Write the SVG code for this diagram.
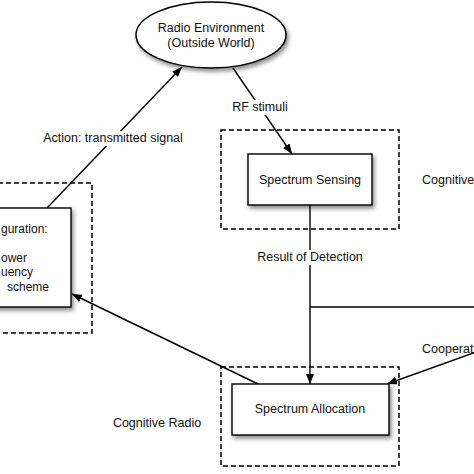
<svg xmlns="http://www.w3.org/2000/svg" width="474" height="474" viewBox="0 0 474 474">
<defs>
<filter id="sh" x="-20%" y="-20%" width="150%" height="160%">
<feDropShadow dx="2" dy="3" stdDeviation="2" flood-color="#000" flood-opacity="0.45"/>
</filter>
<marker id="ah" markerWidth="10" markerHeight="8" refX="10" refY="4" orient="auto" markerUnits="userSpaceOnUse">
<path d="M0,0 L10,4 L0,8 Z" fill="#000"/>
</marker>
<style>
text{font-family:"Liberation Sans",Arial,sans-serif;font-size:12.5px;fill:#111}
.box{fill:#fff;stroke:#000;stroke-width:1.4}
.dash{fill:none;stroke:#000;stroke-width:1.5;stroke-dasharray:5,3}
.ln{fill:none;stroke:#000;stroke-width:1.4}
.c{text-anchor:middle}
.bg{fill:#fff}
.s{font-size:12px}
</style>
</defs>
<rect width="474" height="474" fill="#fff"/>
<g id="groups">
<rect class="dash" x="221" y="130" width="178" height="99"/>
<rect class="dash" x="221" y="367" width="178" height="99"/>
<rect class="dash" x="-10" y="183" width="102" height="150"/>
</g>
<g id="connectors">
<line class="ln" x1="47" y1="208" x2="182" y2="67" marker-end="url(#ah)"/>
<line class="ln" x1="233" y1="68" x2="292" y2="154" marker-end="url(#ah)"/>
<line class="ln" x1="310" y1="205" x2="310" y2="384" marker-end="url(#ah)"/>
<line class="ln" x1="310" y1="307" x2="474" y2="307"/>
<line class="ln" x1="258" y1="384" x2="72" y2="294" marker-end="url(#ah)"/>
<line class="ln" x1="476" y1="352" x2="387" y2="384" marker-end="url(#ah)"/>
<rect class="bg" x="43" y="131" width="142" height="15"/>
<text x="113" y="142" class="c">Action: transmitted signal</text>
<rect class="bg" x="229" y="100" width="62" height="15"/>
<text x="260" y="111" class="c">RF stimuli</text>
<rect class="bg" x="256" y="250" width="108" height="15"/>
<text x="310" y="261" class="c">Result of Detection</text>
</g>
<g id="radio-environment">
<ellipse cx="211" cy="35" rx="75" ry="33" fill="#fff" stroke="#000" stroke-width="1.5" filter="url(#sh)"/>
<text x="211" y="32" class="c">Radio Environment</text>
<text x="211" y="47" class="c">(Outside World)</text>
</g>
<g id="spectrum-sensing">
<rect class="box" x="248" y="154" width="124" height="51" filter="url(#sh)"/>
<text x="310" y="184" class="c">Spectrum Sensing</text>
</g>
<g id="spectrum-allocation">
<rect class="box" x="232" y="384" width="157" height="51" filter="url(#sh)"/>
<text x="310" y="413" class="c">Spectrum Allocation</text>
</g>
<g id="configuration">
<rect class="box" x="-10" y="208" width="81" height="99" filter="url(#sh)"/>
<text x="1" y="233" class="s">guration:</text>
<text x="1" y="262" class="s">ower</text>
<text x="1" y="276" class="s">uency</text>
<text x="49" y="291" text-anchor="end" class="s">scheme</text>
</g>
<g id="labels">
<text x="157" y="427" class="c">Cognitive Radio</text>
<text x="422" y="184">Cognitive</text>
<text x="422" y="353">Cooperat</text>
</g>
</svg>
